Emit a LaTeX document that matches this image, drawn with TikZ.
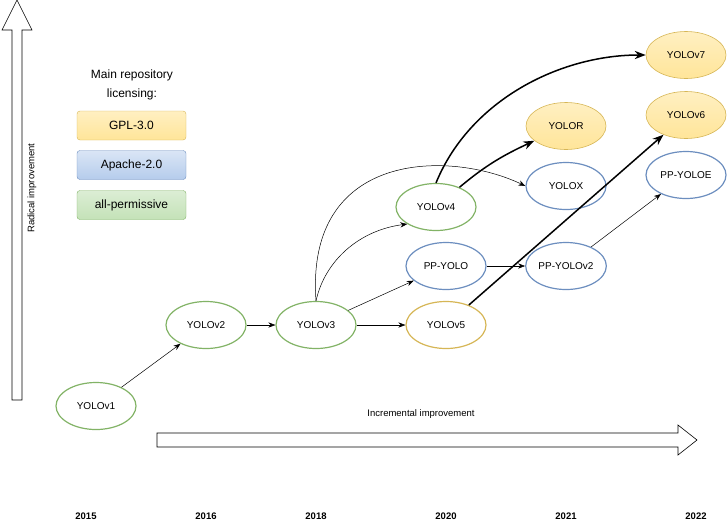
\documentclass[tikz,border=0pt]{standalone}
\usepackage{fontspec}
\setmainfont{Liberation Sans}
\usetikzlibrary{shapes.geometric, arrows.meta}
\definecolor{gplfill}{HTML}{FFE599}
\definecolor{gpldraw}{HTML}{D6B656}
\definecolor{apafill}{HTML}{B5CCEC}
\definecolor{apadraw}{HTML}{6C8EBF}
\definecolor{mitfill}{HTML}{C4E2B8}
\definecolor{mitdraw}{HTML}{82B366}
\tikzset{
    model/.style={ % ellipse for each model
        ellipse, minimum width=80pt, minimum height=47pt, inner sep=1pt,
        line width=1.2pt, font=\fontsize{10}{12}\selectfont
    },
    gpl/.style={model, draw=gpldraw, top color=gplfill!60, bottom color=gplfill, line width=0.6pt},
    apa/.style={model, draw=apadraw, fill=white},
    mit/.style={model, draw=mitdraw, fill=white},
    lic/.style={rectangle, rounded corners=3pt, minimum width=109pt,
        minimum height=29pt, font=\fontsize{12}{14}\selectfont},
    year/.style={font=\bfseries\fontsize{9.5}{11}\selectfont},
    thin/.style={-{Stealth[length=7pt]}, line width=0.5pt},
    thick/.style={-{Stealth[length=11pt]}, line width=1.5pt}
}
\begin{document}
\begin{tikzpicture}[x=1pt, y=-1pt]
        \useasboundingbox (0,0) rectangle (727,531);
        % axes
        \draw[line width=0.6pt] (12,400) -- (12,30) -- (2,30) -- (17,0) -- (32,30) -- (22,30) -- (22,400) -- cycle;
        \node[rotate=90, font=\fontsize{9.5}{11}\selectfont] (radical) at (32,188) {Radical improvement};
        \draw[line width=0.6pt] (157,433) -- (678,433) -- (678,425) -- (697,440) -- (678,455) -- (678,447) -- (157,447) -- cycle;
        \node[font=\fontsize{9.5}{11}\selectfont] (incr) at (421,414) {Incremental improvement};
        % legend
        \node[align=center, font=\fontsize{12}{19}\selectfont] (title) at (132,85) {Main repository\\licensing:};
        \node[lic, draw=gpldraw, top color=gplfill!60, bottom color=gplfill] (gplbox) at (131.5,125.5) {GPL-3.0};
        \node[lic, draw=apadraw, top color=apafill!50, bottom color=apafill] (apabox) at (131.5,165) {Apache-2.0};
        \node[lic, draw=mitdraw, top color=mitfill!60, bottom color=mitfill] (mitbox) at (131.5,205) {all-permissive};
        % models
        \node[mit] (v1)    at (96,406)  {YOLOv1};
        \node[mit] (v2)    at (206,325) {YOLOv2};
        \node[mit] (v3)    at (316,325) {YOLOv3};
        \node[mit] (v4)    at (436,207) {YOLOv4};
        \node[apa] (pp)    at (446,266) {PP-YOLO};
        \node[model, draw=gpldraw, fill=white] (v5) at (446,325) {YOLOv5};
        \node[gpl] (yolor) at (566,126) {YOLOR};
        \node[apa] (yolox) at (566,186) {YOLOX};
        \node[apa] (pp2)   at (566,266) {PP-YOLOv2};
        \node[gpl] (v7)    at (686,55)  {YOLOv7};
        \node[gpl] (v6)    at (686,115) {YOLOv6};
        \node[apa] (ppe)   at (686,175) {PP-YOLOE};
        % years
        \foreach \yr/\xx in {2015/86, 2016/206, 2018/316, 2020/446, 2021/566, 2022/696}
            \node[year] (y\yr) at (\xx,516) {\yr};
        % connectors
        \draw[thin] (v1) -- (v2);
        \draw[thin] (v2) -- (v3);
        \draw[thin] (v3) -- (v5);
        \draw[thin] (v3) -- (pp);
        \draw[thin] (pp) -- (pp2);
        \draw[thin] (pp2) -- (ppe);
        \draw[thin] (v3.north) .. controls (325,260) and (360,230) .. (v4.south west);
        \draw[thin] (v3.north) .. controls (305,150) and (450,150) .. (yolox.west);
        \draw[thick] (v5) -- (v6);
        \draw[thick] (v4) to[out=40, in=205] (yolor);
        \draw[thick] (v4.north) .. controls (470,100) and (560,55) .. (v7.west);
\end{tikzpicture}
\end{document}
